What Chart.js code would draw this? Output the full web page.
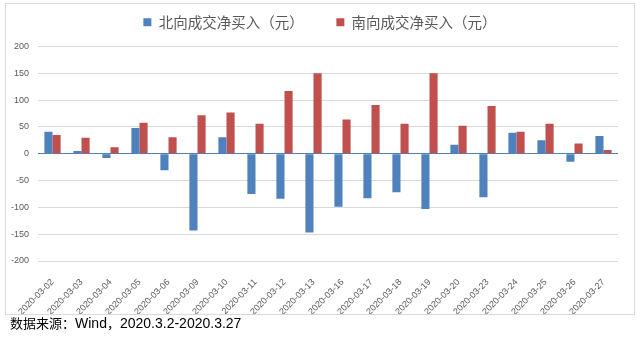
<!DOCTYPE html>
<html>
<head>
<meta charset="utf-8">
<script src="https://cdn.jsdelivr.net/npm/chart.js@4/dist/chart.umd.min.js"></script>
<style>
	body { margin: 0; background: #fff; width: 640px; height: 337px; overflow: hidden; }
	#box { position: absolute; left: 5px; top: 3px; width: 628px; height: 310px; border: 1px solid #d9d9d9; }
	#source { position: absolute; left: 10px; top: 313px; color: #000; white-space: nowrap; font: 14px 'Liberation Sans', sans-serif; }
	#source .cjk { font: 13px 'Noto Sans CJK SC', sans-serif; }
</style>
</head>
<body>
<div id="box"><canvas id="resultGraph"></canvas></div>
<div id="source"><span class="cjk">数据来源：</span>Wind<span class="cjk">，</span>2020.3.2-2020.3.27</div>
<script>
'use strict';

const dates = [
	'2020-03-02', '2020-03-03', '2020-03-04', '2020-03-05', '2020-03-06',
	'2020-03-09', '2020-03-10', '2020-03-11', '2020-03-12', '2020-03-13',
	'2020-03-16', '2020-03-17', '2020-03-18', '2020-03-19', '2020-03-20',
	'2020-03-23', '2020-03-24', '2020-03-25', '2020-03-26', '2020-03-27'
];
const seriesNames = ['北向成交净买入（元）', '南向成交净买入（元）'];
const northBuy = [41, 5, -8, 48, -31, -143, 31, -75, -84, -147, -99, -83, -72, -103, 17, -81, 39, 25, -15, 33];
const southBuy = [35, 30, 12, 58, 31, 72, 77, 56, 117, 150, 64, 91, 56, 150, 52, 89, 41, 56, 19, 7];
const yTicks = [-200, -150, -100, -50, 0, 50, 100, 150, 200];

// 凡例の下に余白を足し、キャンバス中央に寄せる
const legendSpace = {
	id: 'legendSpace',
	beforeInit(chart) {
		const fit = chart.legend.fit;
		chart.legend.fit = function() {
			fit.bind(chart.legend)();
			this.height += 7;
		};
	},
	afterUpdate(chart) {
		chart.legend.right += 16;
	}
};

let config = {
	type: 'bar',
	data: {
		labels: dates,
		datasets: [
			{ label: seriesNames[0], data: northBuy, backgroundColor: '#4f81bd' },
			{ label: seriesNames[1], data: southBuy, backgroundColor: '#c0504d' }
		]
	},
	options: {
		responsive: true,
		maintainAspectRatio: false,
		animation: false,
		layout: { padding: { left: 0, right: 16, top: 0, bottom: 0 } },
		datasets: {
			bar: { categoryPercentage: 0.56, barPercentage: 1 }
		},
		plugins: {
			legend: {
				position: 'top',
				labels: {
					boxWidth: 8,
					boxHeight: 8,
					padding: 11,
					color: '#595959',
					font: { family: "'Noto Sans CJK SC', sans-serif", size: 14.5 },
					generateLabels: (chart) => {
						const items = Chart.defaults.plugins.legend.labels.generateLabels(chart);
						items[0].text += '\u3000\u3000';
						return items;
					}
				}
			},
			tooltip: { enabled: false }
		},
		scales: {
			x: {
				grid: { display: false },
				border: { display: false },
				ticks: {
					color: '#595959',
					font: { family: "'Liberation Sans', sans-serif", size: 9 },
					minRotation: 45,
					maxRotation: 45,
					padding: 8
				},
				afterFit: (scale) => { scale.height = 53; }
			},
			y: {
				min: yTicks[0],
				max: yTicks[yTicks.length - 1],
				afterBuildTicks: (scale) => { scale.ticks = yTicks.map(v => ({ value: v })); },
				grid: {
					color: (ctx) => ctx.tick && ctx.tick.value === 0 ? '#4f81bd' : '#d9d9d9',
					drawTicks: false
				},
				border: { display: false },
				ticks: { color: '#595959', font: { family: "'Liberation Sans', sans-serif", size: 9 }, padding: 9 },
				afterFit: (scale) => { scale.width = 32; }
			}
		}
	},
	plugins: [legendSpace]
};

window.addEventListener('load', function() {
	let ctx = document.getElementById('resultGraph').getContext('2d');
	const resultGraph = new Chart(ctx, config);
}, false);
</script>
</body>
</html>
